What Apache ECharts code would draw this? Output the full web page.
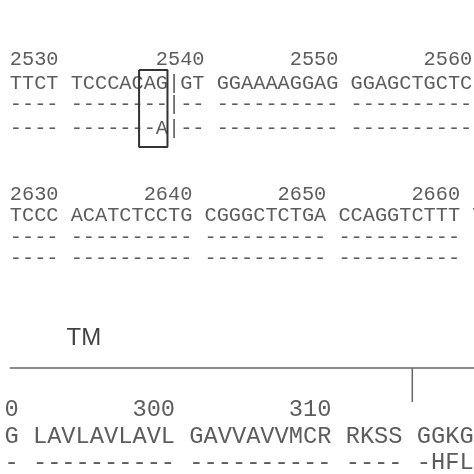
<!DOCTYPE html><html><head><meta charset="utf-8">
<script src="https://cdn.jsdelivr.net/npm/echarts@6/dist/echarts.min.js"></script>
<style>html,body{margin:0;padding:0;background:#fff}#c{width:474px;height:474px}</style></head><body><div id="c"></div>
<script>
// rows: [x, y, text]
const rowsBlock1 = [
  [0, 60, "2530        2540       2550       2560"],
  [0, 84, "TTCT TCCCACAG|GT GGAAAAGGAG GGAGCTGCTC"],
  [0, 105, "---- --------|-- ---------- ----------"],
  [0, 129, "---- -------A|-- ---------- ----------"]
];
const rowsBlock2 = [
  [0, 195, "2630       2640       2650       2660"],
  [0, 216, "TCCC ACATCTCCTG CGGGCTCTGA CCAGGTCTTT T"],
  [0, 238, "---- ---------- ---------- ---------- -"],
  [0, 259, "---- ---------- ---------- ---------- -"]
];
const rowsBlock3 = [
  [-5.4, 410, "0        300        310          320"],
  [-5.4, 437, "G LAVLAVLAVL GAVVAVVMCR RKSS GGKG"],
  [-5.4, 463, "- ---------- ---------- ---- -HFL"]
];
const tmLabel = [[58, 338, "TM"]];
const domainLine = [[0, 368], [474, 368]];
const domainTick = [[411, 368], [411, 402]];
const boxPath = [[132, 70], [161, 70], [161, 147], [132, 147], [132, 70]];

function textSeries(rows, size, family, color) {
  return {
    type: 'scatter', symbolSize: 0, silent: true, clip: false,
    data: rows.map(r => ({ value: [r[0], r[1]], name: r[2] })),
    label: { show: true, position: 'right', distance: 0, formatter: p => p.name,
      fontFamily: family, fontSize: size, color: color, verticalAlign: 'middle' }
  };
}
function lineSeries(pts, color, width) {
  return { type: 'line', data: pts, symbol: 'none', silent: true,
    lineStyle: { color: color, width: width }, z: 5 };
}
const chart = echarts.init(document.getElementById('c'));
chart.setOption({
  animation: false,
  grid: { left: -10, right: 0, top: 0, bottom: 0 },
  xAxis: { type: 'value', min: -10, max: 474, show: false },
  yAxis: { type: 'value', min: 0, max: 474, inverse: true, show: false },
  series: [
    textSeries(rowsBlock1, 20.3, 'Liberation Mono', '#333'),
    textSeries(rowsBlock2, 20.3, 'Liberation Mono', '#333'),
    textSeries(rowsBlock3, 23.7, 'Liberation Mono', '#333'),
    textSeries(tmLabel, 24, 'Liberation Sans', '#111'),
    lineSeries(domainLine, '#666', 1.5),
    lineSeries(domainTick, '#666', 1.5),
    lineSeries(boxPath, '#333', 2)
  ]
});
</script></body></html>
